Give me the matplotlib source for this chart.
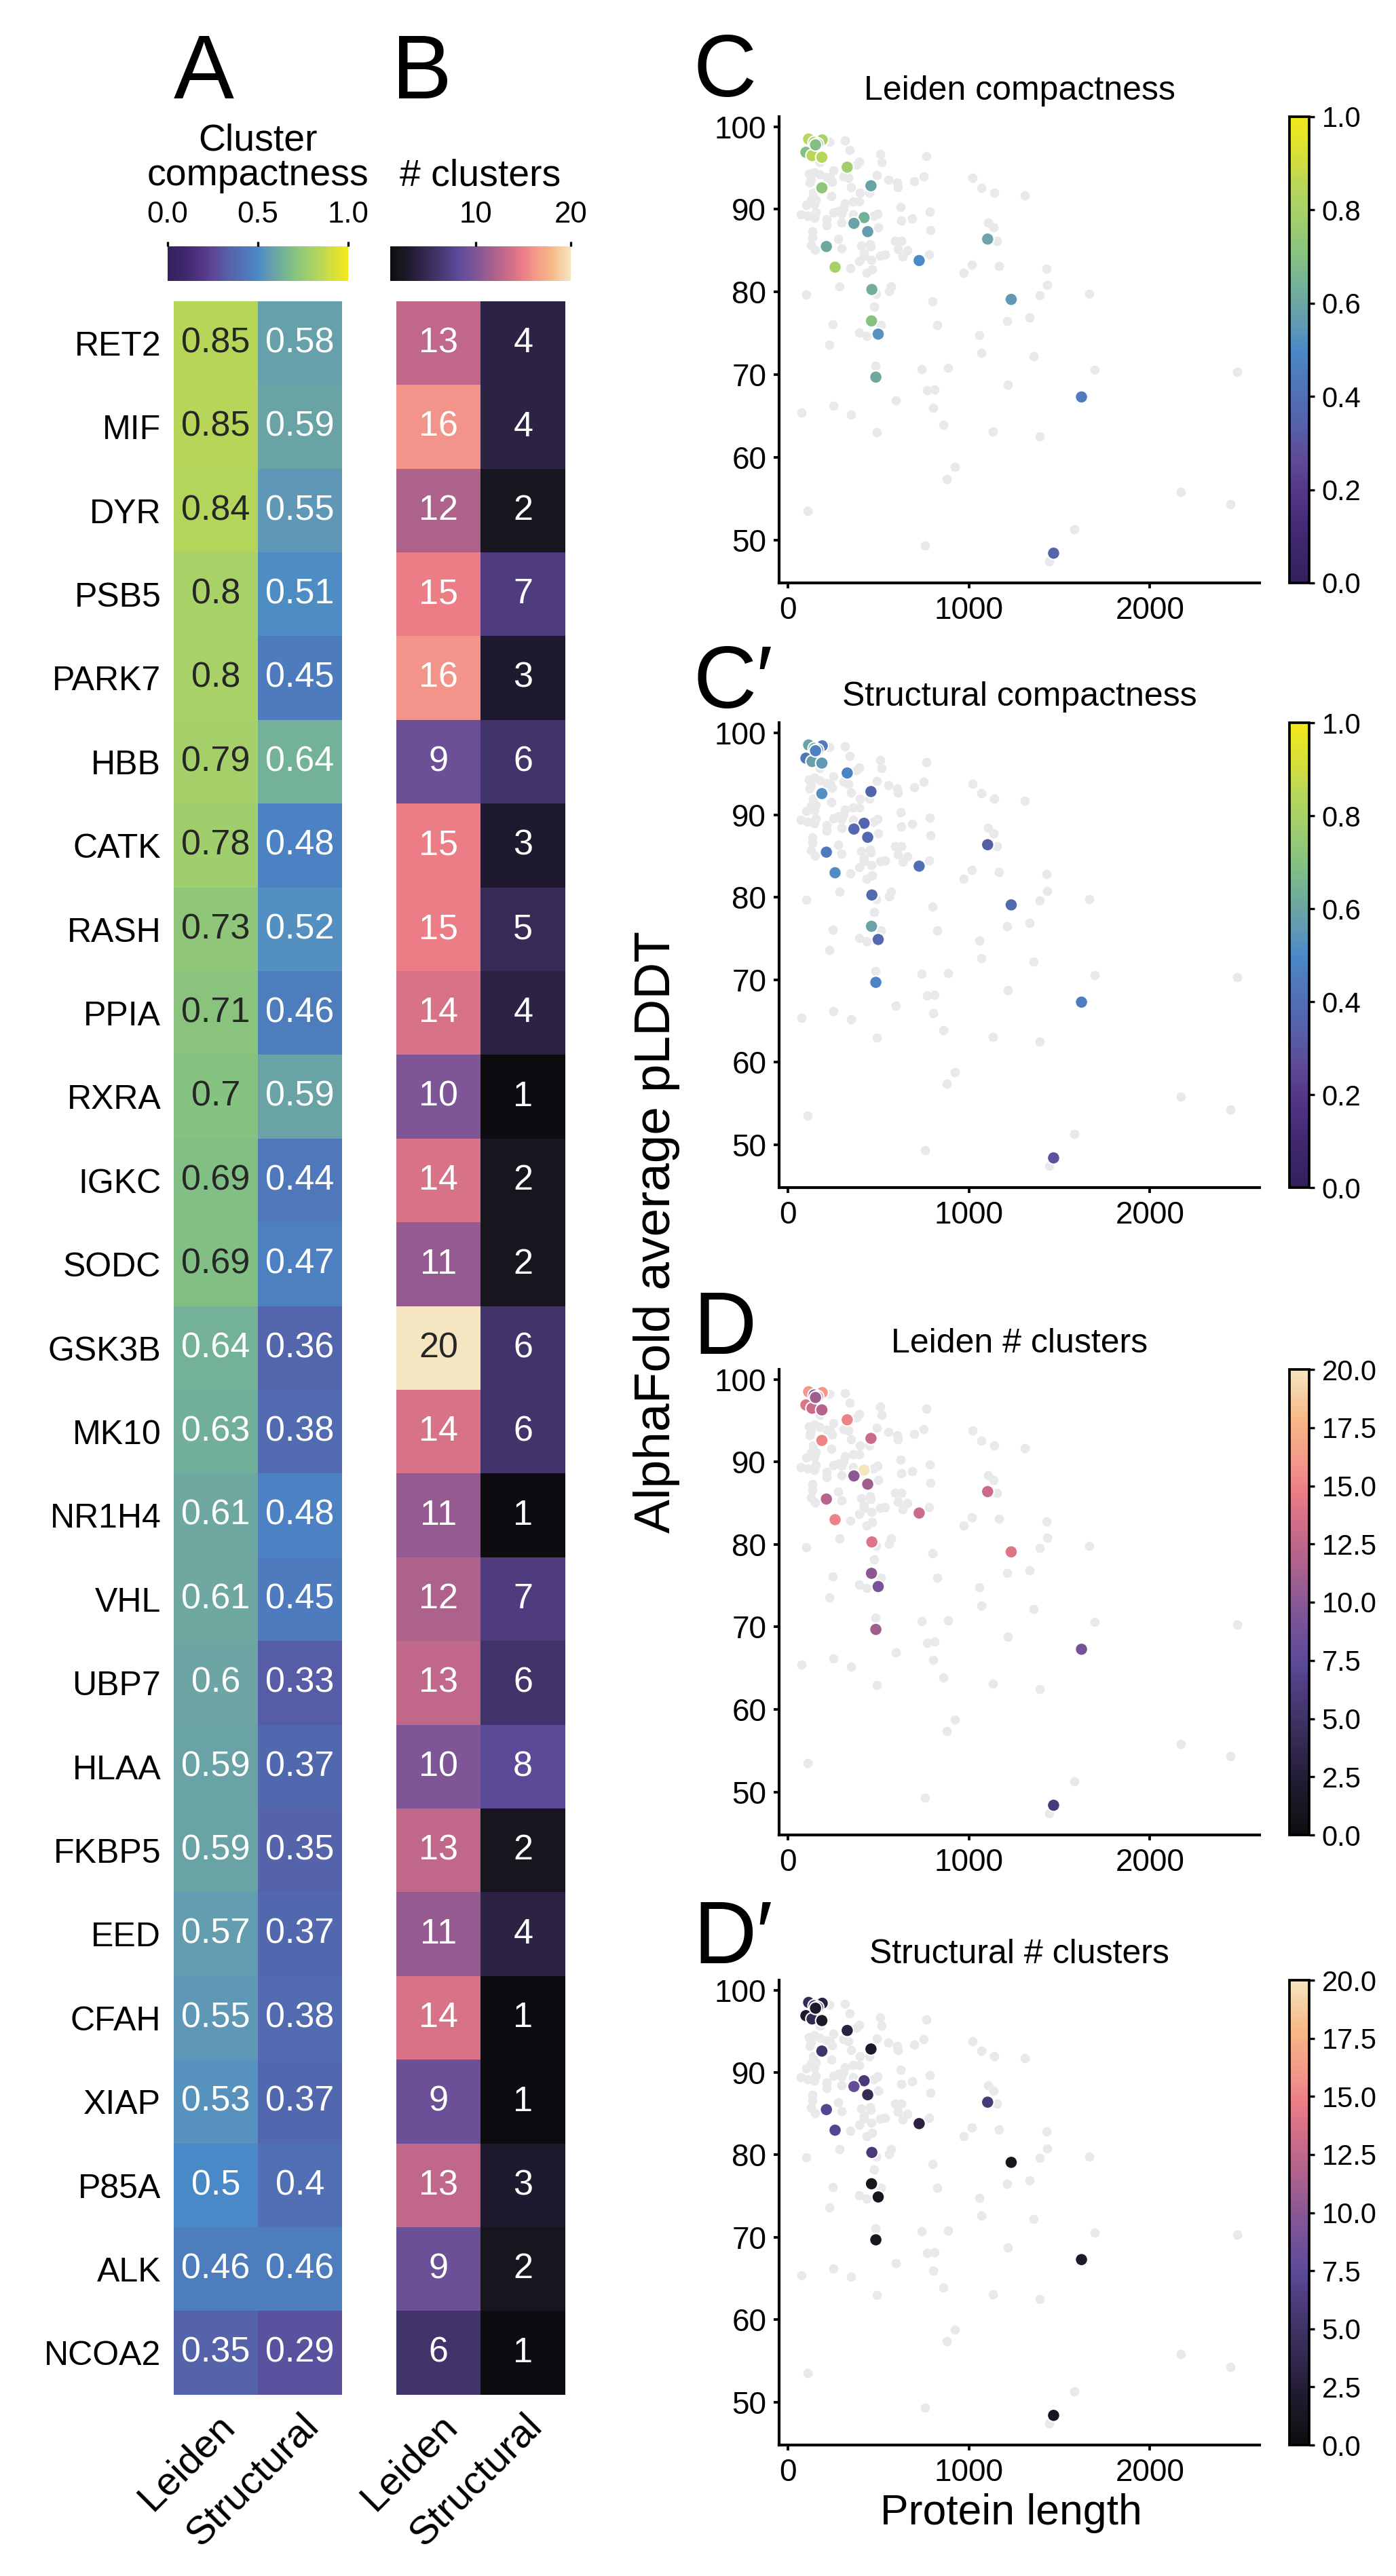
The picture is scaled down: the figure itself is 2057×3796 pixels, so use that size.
import numpy as np
import matplotlib
matplotlib.use('Agg')
import matplotlib.pyplot as plt
from matplotlib.colors import LinearSegmentedColormap

plt.rcParams['font.family'] = ['Liberation Sans', 'DejaVu Sans']

W, H = 2057, 3796
DPI = 300

# heatmap data (A, B)
proteins = ['RET2', 'MIF', 'DYR', 'PSB5', 'PARK7', 'HBB', 'CATK', 'RASH', 'PPIA',
            'RXRA', 'IGKC', 'SODC', 'GSK3B', 'MK10', 'NR1H4', 'VHL', 'UBP7', 'HLAA',
            'FKBP5', 'EED', 'CFAH', 'XIAP', 'P85A', 'ALK', 'NCOA2']
leiden_compact = [0.85, 0.85, 0.84, 0.8, 0.8, 0.79, 0.78, 0.73, 0.71, 0.7, 0.69, 0.69,
                  0.64, 0.63, 0.61, 0.61, 0.6, 0.59, 0.59, 0.57, 0.55, 0.53, 0.5, 0.46, 0.35]
struct_compact = [0.58, 0.59, 0.55, 0.51, 0.45, 0.64, 0.48, 0.52, 0.46, 0.59, 0.44, 0.47,
                  0.36, 0.38, 0.48, 0.45, 0.33, 0.37, 0.35, 0.37, 0.38, 0.37, 0.4, 0.46, 0.29]
leiden_n = [13, 16, 12, 15, 16, 9, 15, 15, 14, 10, 14, 11, 20, 14, 11, 12, 13, 10, 13, 11,
            14, 9, 13, 9, 6]
struct_n = [4, 4, 2, 7, 3, 6, 3, 5, 4, 1, 2, 2, 6, 6, 1, 7, 6, 8, 2, 4, 1, 1, 3, 2, 1]
method_labels = ['Leiden', 'Structural']

# highlighted proteins in the scatter panels (same order as above)
prot_len = [135, 116, 189, 262, 191, 147, 329, 189, 165, 463, 101, 154, 422, 465, 487,
            214, 1104, 366, 460, 442, 1234, 500, 726, 1622, 1468]
prot_plddt = [96.5, 98.5, 96.3, 83.0, 98.4, 98.1, 95.1, 92.6, 97.9, 76.5, 96.9, 97.8,
              89.0, 80.3, 69.7, 85.5, 86.4, 88.3, 92.85, 87.3, 79.1, 74.9, 83.8, 67.3, 48.4]

# background proteins
gray_len = [229, 318, 341, 512, 520, 767, 395, 379, 254, 116, 148, 179, 216, 235, 245,
            120, 129, 310, 335, 494, 557, 604, 610, 700, 751, 351, 241, 141, 400, 450,
            129, 154, 104, 148, 316, 360, 395, 73, 110, 154, 148, 216, 254, 279, 297,
            310, 297, 360, 472, 495, 500, 216, 625, 628, 687, 785, 788, 135, 135, 129,
            150, 279, 297, 407, 454, 460, 420, 422, 462, 510, 537, 595, 628, 607, 635,
            662, 782, 395, 345, 435, 466, 970, 285, 572, 179,
            1019, 1070, 1141, 1308, 1105, 1135, 1155, 1017, 1168, 1429, 1434, 102, 489,
            560, 798, 1665, 1391, 477, 824, 250, 1212, 1334, 394, 435, 516, 231, 1058,
            1068, 1358, 485, 741, 885, 1693, 2481, 1216, 768, 810, 597, 802, 254, 349,
            77, 859, 491, 1133, 1391, 922, 879, 2171, 2445, 110, 1584, 759, 1444]
gray_plddt = [98.2, 98.3, 97.2, 96.7, 95.7, 96.4, 95.8, 95.4, 94.7, 94.3, 94.5, 94.2, 93.9,
              93.8, 93.3, 93.2, 93.6, 94.0, 93.8, 94.1, 93.6, 93.2, 92.7, 93.4, 94.0, 92.7,
              91.6, 92.0, 92.0, 92.0, 91.1, 91.2, 90.5, 90.6, 90.7, 90.9, 90.9, 89.4, 89.2,
              89.6, 89.0, 88.8, 89.6, 89.8, 89.5, 90.1, 88.4, 89.4, 89.2, 89.5, 87.8, 88.1,
              90.3, 88.6, 88.9, 89.7, 87.5, 87.3, 86.6, 85.7, 85.1, 86.4, 85.3, 85.6, 85.8,
              85.5, 84.7, 84.4, 83.9, 84.4, 84.5, 86.2, 86.2, 85.2, 84.3, 85.0, 84.5, 83.7,
              82.9, 82.3, 82.7, 82.3, 80.7, 80.7, 95.7,
              93.8, 92.6, 92.0, 91.7, 88.4, 87.8, 86.2, 83.3, 83.1, 82.8, 80.8, 79.7, 79.8,
              80.1, 78.9, 79.8, 79.6, 78.2, 76.0, 76.1, 76.5, 76.9, 75.1, 74.7, 76.0, 73.6,
              74.8, 72.6, 72.2, 71.1, 70.7, 70.8, 70.6, 70.3, 68.8, 68.1, 68.2, 66.9, 66.0,
              66.2, 65.2, 65.4, 63.9, 63.0, 63.1, 62.5, 58.8, 57.4, 55.8, 54.3, 53.5, 51.3,
              49.3, 47.4]

compact_cmap = LinearSegmentedColormap.from_list('compact', [
    (0.0, '#34205c'), (0.1, '#412870'), (0.2, '#553888'), (0.25, '#5e4696'),
    (0.3, '#5a55a0'), (0.35, '#5464ab'), (0.4, '#516fb4'), (0.45, '#4f7bbd'),
    (0.5, '#4a89c8'), (0.55, '#5f99b6'), (0.6, '#6ca5a4'), (0.65, '#76b595'),
    (0.7, '#86c281'), (0.8, '#a8d168'), (0.85, '#b7d65a'), (0.9, '#d0dd41'),
    (1.0, '#f3e91a')])
count_cmap = LinearSegmentedColormap.from_list('count', [
    (0.0, '#0d0c10'), (0.0526, '#18161f'), (0.105, '#1f1a2f'), (0.158, '#2d2344'),
    (0.263, '#42356b'), (0.316, '#4f3d80'), (0.368, '#5a4a98'), (0.474, '#7e5597'),
    (0.579, '#ad628c'), (0.632, '#c2688a'), (0.737, '#ec7c86'), (0.789, '#f2938a'),
    (0.895, '#f8b886'), (1.0, '#f5e5c0')])


def box(x0, y0, x1, y1):
    return [x0 / W, 1 - y1 / H, (x1 - x0) / W, (y1 - y0) / H]


fig = plt.figure(figsize=(W / DPI, H / DPI), dpi=DPI)


def heatmap(ax, data, cmap, vmin, vmax, fmt, dark_above, show_rows):
    im = ax.imshow(data, cmap=cmap, vmin=vmin, vmax=vmax, aspect='auto',
                   interpolation='nearest')
    for i in range(data.shape[0]):
        for j in range(data.shape[1]):
            v = data[i, j]
            ax.text(j, i, fmt(v), ha='center', va='center', fontsize=12.5,
                    color='#262626' if v > dark_above else 'white')
    for s in ax.spines.values():
        s.set_visible(False)
    ax.set_xticks(range(2))
    ax.set_xticklabels(method_labels, rotation=45, ha='right', va='top',
                       rotation_mode='anchor', fontsize=14)
    ax.set_yticks(range(data.shape[0]))
    if show_rows:
        ax.set_yticklabels(proteins, fontsize=12)
    else:
        ax.set_yticklabels([])
    ax.tick_params(length=0, pad=4.5)
    return im


ax_a = fig.add_axes(box(256, 444, 504, 3529))
im_a = heatmap(ax_a, np.array([leiden_compact, struct_compact]).T, compact_cmap, 0, 1,
               lambda v: f'{v:g}', 0.66, True)
ax_b = fig.add_axes(box(584, 444, 833, 3529))
im_b = heatmap(ax_b, np.array([leiden_n, struct_n]).T, count_cmap, 1, 20,
               lambda v: str(int(v)), 18, False)

for rect, im, ticks in [((247, 363, 513, 414), im_a, [0, 0.5, 1.0]),
                        ((575, 363, 841, 414), im_b, [10, 20])]:
    cax = fig.add_axes(box(*rect))
    cb = fig.colorbar(im, cax=cax, orientation='horizontal', ticks=ticks)
    cb.outline.set_visible(False)
    cax.xaxis.set_ticks_position('top')
    cax.tick_params(labelsize=10.5, length=1.8, width=0.8, pad=4.5)

fig.text(380 / W, 1 - 222 / H, 'Cluster', ha='center', va='baseline', fontsize=13.3)
fig.text(380 / W, 1 - 273 / H, 'compactness', ha='center', va='baseline', fontsize=13.3)
fig.text(708 / W, 1 - 273 / H, '# clusters', ha='center', va='baseline', fontsize=13.3)

fig.text(300 / W, 1 - 145 / H, 'A', ha='center', va='baseline', fontsize=32)
fig.text(622 / W, 1 - 145 / H, 'B', ha='center', va='baseline', fontsize=32)

# scatter panels
order = [10] + [i for i in range(len(proteins)) if i != 10]
plen = np.array(prot_len)[order]
ppl = np.array(prot_plddt)[order]

panels = [
    ((172, 859), 'C', 'Leiden compactness', leiden_compact, compact_cmap, 0, 1,
     [0, 0.2, 0.4, 0.6, 0.8, 1.0], 142),
    ((1065, 1750), 'C\u2032', 'Structural compactness', struct_compact, compact_cmap, 0, 1,
     [0, 0.2, 0.4, 0.6, 0.8, 1.0], 1043),
    ((2018, 2704), 'D', 'Leiden # clusters', leiden_n, count_cmap, 0, 20,
     [0, 2.5, 5, 7.5, 10, 12.5, 15, 17.5, 20], 1995),
    ((2918, 3603), 'D\u2032', 'Structural # clusters', struct_n, count_cmap, 0, 20,
     [0, 2.5, 5, 7.5, 10, 12.5, 15, 17.5, 20], 2893),
]

for (top, bot), letter, title, vals, cmap, vmin, vmax, ticks, base in panels:
    ax = fig.add_axes(box(1148, top, 1856, bot))
    ax.scatter(gray_len, gray_plddt, s=11, color='#e9e9ec', linewidths=0, zorder=1)
    sc = ax.scatter(plen, ppl, c=np.array(vals, dtype=float)[order], cmap=cmap,
                    vmin=vmin, vmax=vmax, s=20, edgecolors='white', linewidths=0.5,
                    zorder=2)
    ax.set_xlim(-47, 2605)
    ax.set_ylim(44.8, 101.2)
    ax.set_xticks([0, 1000, 2000])
    ax.set_yticks([50, 60, 70, 80, 90, 100])
    ax.spines['top'].set_visible(False)
    ax.spines['right'].set_visible(False)
    for s in ['left', 'bottom']:
        ax.spines[s].set_linewidth(1.0)
    ax.tick_params(labelsize=11, length=2, width=0.9, pad=2.5)
    ax.set_title(title, fontsize=12, pad=6)

    cax = fig.add_axes(box(1900, top, 1929, bot))
    cb = fig.colorbar(sc, cax=cax, ticks=ticks)
    cb.outline.set_linewidth(0.9)
    cax.tick_params(labelsize=10, length=2, width=0.8, pad=2.5)

    fig.text(1021 / W, 1 - base / H, letter, ha='left', va='baseline', fontsize=31)

fig.text(968 / W, 1 - 1815 / H, 'AlphaFold average pLDDT', rotation=90,
         ha='center', va='center', fontsize=18)
fig.text(1490 / W, 1 - 3703 / H, 'Protein length', ha='center', va='center', fontsize=15)

fig.savefig('out.png', dpi=DPI)
